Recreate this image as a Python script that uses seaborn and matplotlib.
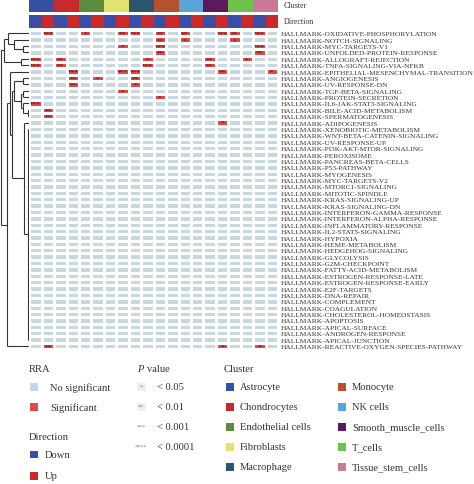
import numpy as np
import pandas as pd
import matplotlib
matplotlib.use("Agg")
import matplotlib.pyplot as plt
import seaborn as sns
from matplotlib.colors import ListedColormap
from matplotlib.patches import Rectangle

sns.set_theme(style="white")
plt.rcParams['font.family'] = ['Liberation Serif', 'DejaVu Serif']

pathways = [
    "OXIDATIVE-PHOSPHORYLATION", "NOTCH-SIGNALING", "MYC-TARGETS-V1", "UNFOLDED-PROTEIN-RESPONSE",
    "ALLOGRAFT-REJECTION", "TNFA-SIGNALING-VIA-NFKB", "EPITHELIAL-MESENCHYMAL-TRANSITION",
    "ANGIOGENESIS", "UV-RESPONSE-DN", "TGF-BETA-SIGNALING", "PROTEIN-SECRETION",
    "IL6-JAK-STAT3-SIGNALING", "BILE-ACID-METABOLISM", "SPERMATOGENESIS", "ADIPOGENESIS",
    "XENOBIOTIC-METABOLISM", "WNT-BETA-CATENIN-SIGNALING", "UV-RESPONSE-UP",
    "PI3K-AKT-MTOR-SIGNALING", "PEROXISOME", "PANCREAS-BETA-CELLS", "P53-PATHWAY",
    "MYOGENESIS", "MYC-TARGETS-V2", "MTORC1-SIGNALING", "MITOTIC-SPINDLE",
    "KRAS-SIGNALING-UP", "KRAS-SIGNALING-DN", "INTERFERON-GAMMA-RESPONSE",
    "INTERFERON-ALPHA-RESPONSE", "INFLAMMATORY-RESPONSE", "IL2-STAT5-SIGNALING", "HYPOXIA",
    "HEME-METABOLISM", "HEDGEHOG-SIGNALING", "GLYCOLYSIS", "G2M-CHECKPOINT",
    "FATTY-ACID-METABOLISM", "ESTROGEN-RESPONSE-LATE", "ESTROGEN-RESPONSE-EARLY",
    "E2F-TARGETS", "DNA-REPAIR", "COMPLEMENT", "COAGULATION", "CHOLESTEROL-HOMEOSTASIS",
    "APOPTOSIS", "APICAL-SURFACE", "ANDROGEN-RESPONSE", "APICAL-JUNCTION",
    "REACTIVE-OXYGEN-SPECIES-PATHWAY"]
row_labels = ["HALLMARK-" + p for p in pathways]

clusters = ["Astrocyte", "Chondrocytes", "Endothelial cells", "Fibroblasts", "Macrophage",
            "Monocyte", "NK cells", "Smooth_muscle_cells", "T_cells", "Tissue_stem_cells"]
cluster_colors = ["#3550A0", "#C62A2C", "#5B8C3E", "#E2E36E", "#2E5470",
                  "#B4512F", "#5AA5D8", "#5C1A5C", "#6CC24A", "#C97A9A"]
directions = ["Down", "Up"]
direction_colors = ["#3A4EA8", "#CC2A2A"]
rra_labels = ["No significant", "Significant"]
rra_colors = ["#C8D8E0", "#E04A4A"]
p_stars = ["*", "**", "***", "****"]
p_labels = ["< 0.05", "< 0.01", "< 0.001", "< 0.0001"]

# significant cells: row index, column index (cluster*2 + direction), stars
sig_rows = [0, 0, 0, 0, 0, 0, 0, 0, 0,
            1, 1, 1,
            2, 2, 2,
            3, 3,
            4, 4, 4, 4, 4,
            5, 5, 5, 5,
            6, 6, 6, 6, 6,
            7, 7, 7,
            8, 8,
            9, 10, 11, 12, 13, 14,
            49, 49, 49]
sig_cols = [1, 4, 7, 8, 10, 12, 15, 16, 18,
            10, 12, 16,
            7, 10, 18,
            10, 18,
            0, 2, 9, 14, 17,
            0, 2, 9, 14,
            3, 7, 8, 15, 19,
            3, 5, 8,
            3, 8,
            7, 10, 0, 1, 1, 15,
            1, 15, 18]
sig_stars = ["***", "*", "**", "***", "**", "**", "***", "**", "***",
             "**", "*", "*",
             "*", "***", "***",
             "**", "**",
             "***", "**", "*", "**", "*",
             "***", "**", "***", "**",
             "***", "***", "***", "**", "*",
             "**", "*", "**",
             "**", "*",
             "*", "*", "***", "**", "**", "*",
             "**", "*", "*"]

# row dendrogram: (height, child, child, ...), leaves are row indices
flat_group = (1.0,) + tuple(range(15, 49))
row_tree = (28,
            (25, (21, 0, (15, 1, (6, 2, 3))), (8, 4, 5)),
            (22,
             (19, 6,
              (17,
               (15, (6, 7, 8), (8, (6, 9, 10), (6, 11, (1, 12, 13)))),
               (5, 14, flat_group))),
             49))

W, H = 474, 485
fig = plt.figure(figsize=(W / 100, H / 100), dpi=100)


def axpx(x0, y0, x1, y1):
    return fig.add_axes([x0 / W, 1 - y1 / H, (x1 - x0) / W, (y1 - y0) / H])


n_rows, n_cols = len(row_labels), len(clusters) * len(directions)
sig = np.zeros((n_rows, n_cols))
annot = np.full((n_rows, n_cols), "", dtype=object)
for r, c, s in zip(sig_rows, sig_cols, sig_stars):
    sig[r, c] = 1
    annot[r, c] = s

X0, X1 = 29.3, 278.0
ax_hm = axpx(X0, 31.1, X1, 350.2)
sns.heatmap(pd.DataFrame(sig, index=row_labels), ax=ax_hm, cmap=ListedColormap(rra_colors),
            vmin=0, vmax=1, cbar=False, linewidths=0.9, linecolor="white",
            annot=annot, fmt="", annot_kws={"fontsize": 5.2, "color": "#5a0c0c", "va": "center"},
            xticklabels=False, yticklabels=row_labels)
ax_hm.yaxis.tick_right()
ax_hm.set_yticklabels(row_labels, rotation=0, fontsize=5.35, color="#333333")
ax_hm.tick_params(axis="y", length=0, pad=2)
ax_hm.set_ylabel("")

# cluster annotation bar
ax_cl = axpx(X0, 0.0, X1, 12.7)
cl_vals = np.repeat(np.arange(len(clusters)), len(directions))[None, :]
sns.heatmap(cl_vals, ax=ax_cl, cmap=ListedColormap(cluster_colors), vmin=-0.5,
            vmax=len(clusters) - 0.5, cbar=False, xticklabels=False, yticklabels=False)
fig.text(284 / W, 1 - 6.3 / H, "Cluster", fontsize=5.8, va="center", color="#333333")

# direction annotation bar
ax_dir = axpx(X0, 15.7, X1, 29.3)
dir_vals = np.tile(np.arange(len(directions)), len(clusters))[None, :]
sns.heatmap(dir_vals, ax=ax_dir, cmap=ListedColormap(direction_colors), vmin=-0.5, vmax=1.5,
            cbar=False, xticklabels=False, yticklabels=False)
fig.text(284 / W, 1 - 22.5 / H, "Direction", fontsize=5.8, va="center", color="#333333")

# dendrogram
ax_d = axpx(0, 31.1, X0, 350.2)
ax_d.set_ylim(n_rows, 0)
ax_d.set_xlim(29.3, 0)
ax_d.axis("off")


def draw(node):
    if isinstance(node, int):
        return node + 0.5, 0.0
    h, *children = node
    pts = [draw(c) for c in children]
    for y, ch in pts:
        ax_d.plot([ch, h], [y, y], color="#333333", lw=0.8, solid_capstyle="butt")
    ys = [p[0] for p in pts]
    ax_d.plot([h, h], [min(ys), max(ys)], color="#333333", lw=0.8, solid_capstyle="butt")
    return (min(ys) + max(ys)) / 2, h


draw(row_tree)

# legends
FS = 7.6


def ftext(x, y, s, **kw):
    kw.setdefault("fontsize", FS)
    kw.setdefault("color", "#333333")
    fig.text(x / W, 1 - y / H, s, va="center", **kw)


def fbox(x, y, color, s=7.5):
    fig.add_artist(Rectangle((x / W, 1 - (y + s / 2) / H), s / W, s / H,
                             transform=fig.transFigure, color=color, lw=0))


ftext(29, 370, "RRA")
for i, (lab, col) in enumerate(zip(rra_labels, rra_colors)):
    fbox(30, 388 + 20 * i, col)
    ftext(50, 388 + 20 * i, lab)
ftext(29, 437.5, "Direction")
for i, (lab, col) in enumerate(zip(directions, direction_colors)):
    fbox(30, 455.5 + 21.5 * i, col)
    ftext(45, 455.5 + 21.5 * i, lab)

ftext(137, 370, "P", style="italic")
ftext(147, 370, "value")
for i, (st, lab) in enumerate(zip(p_stars, p_labels)):
    yy = 388 + 20 * i
    if i < 2:
        fbox(137, yy, "#EEEEEE", s=8.5)
    fig.text(141 / W, 1 - (yy - 1) / H, st, fontsize=4.5, ha="center", va="center", color="#888888")
    ftext(157, yy, lab)

ftext(224, 370, "Cluster")
for i, (lab, col) in enumerate(zip(clusters, cluster_colors)):
    col_i, row_i = divmod(i, 5)
    xb = 226 + 112 * col_i
    yy = 388 + 20 * row_i
    fbox(xb, yy, col)
    ftext(xb + 14, yy, lab)

fig.savefig("out.png", dpi=100)
